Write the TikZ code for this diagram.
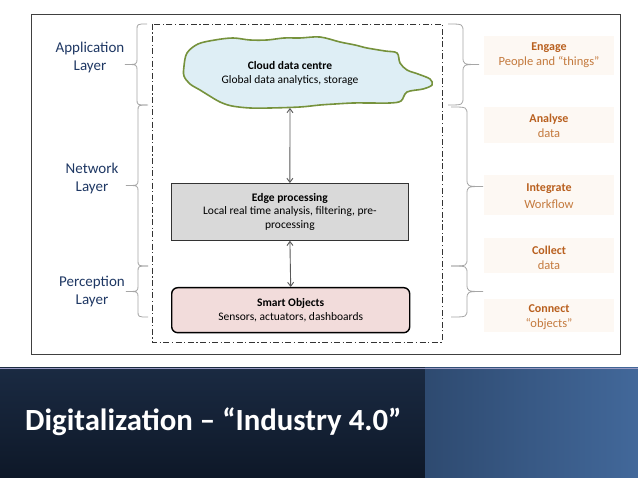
\documentclass[tikz,border=0pt]{standalone}
\usepackage{fontspec}
\setmainfont{Carlito}
\usetikzlibrary{arrows.meta,shapes.misc}
\definecolor{navy}{HTML}{1F3864}
\definecolor{brownA}{HTML}{B9601F}
\definecolor{brownB}{HTML}{C47A3E}
\definecolor{cloudfill}{HTML}{DEEEF5}
\definecolor{cloudline}{HTML}{76923C}
\definecolor{edgefill}{HTML}{D9D9D9}
\definecolor{smartfill}{HTML}{F2DCDB}
\definecolor{boxfill}{HTML}{FDF8F3}
\definecolor{darkband}{HTML}{1A2A42}
\definecolor{darkbandB}{HTML}{0E1828}
\definecolor{lightband}{HTML}{2E4A70}
\definecolor{lightbandB}{HTML}{42689A}
\tikzset{
  layerlabel/.style={text=navy,font=\fontsize{15}{18}\selectfont,align=center},
  stagebox/.style={fill=boxfill,minimum width=130pt,align=center,inner sep=0pt},
  stagetitle/.style={text=brownA,font=\fontsize{12}{14}\selectfont\bfseries},
  stagesub/.style={text=brownB,font=\fontsize{12.5}{14}\selectfont},
  bracepath/.style={draw=gray!70,line width=0.8pt},
  link/.style={draw=black!65,line width=0.9pt,{Straight Barb[length=4pt,width=6pt]}-{Straight Barb[length=4pt,width=6pt]}},
  boxtext/.style={font=\fontsize{11.5}{13.5}\selectfont,align=center}
}
% #1 end x, #2 spine x, #3 tip x, #4 top y, #5 bottom y, #6 curl radius
\newcommand\mybrace[6]{%
 \draw[bracepath] (#1,#4) .. controls (#2,#4) .. (#2,{#4+#6})
   -- (#2,{(#4+#5)/2-#6}) .. controls (#2,{(#4+#5)/2}) .. (#3,{(#4+#5)/2})
   .. controls (#2,{(#4+#5)/2}) .. (#2,{(#4+#5)/2+#6})
   -- (#2,{#5-#6}) .. controls (#2,#5) .. (#1,#5);}
\begin{document}
\begin{tikzpicture}[x=1pt,y=-1pt]
\useasboundingbox (0,0) rectangle (638,478);
\fill[white] (0,0) rectangle (638,478);
% outer frame
\draw[black!75,line width=0.9pt] (31,14) rectangle (620,354);
% dash-dot frame
\draw[black!80,line width=0.8pt,dash pattern=on 6pt off 2.5pt on 1.2pt off 2.5pt] (152,24) rectangle (442,342);
% cloud
\filldraw[fill=cloudfill,draw=cloudline,line width=1.6pt]
 plot[smooth cycle,tension=0.55] coordinates{
 (184,66) (187,53) (198,44) (215,40) (233,38) (250,40) (267,40) (284,38) (300,38)
 (320,37) (340,42) (355,45) (367,48) (385,51) (397,53) (400,63) (407,70) (418,74) (430,79) (432,85)
 (423,89) (407,92) (401,101) (390,103) (370,103) (353,103) (335,104) (320,105) (300,107)
 (270,108) (250,108) (232,106) (220,102) (208,95) (200,90) (190,84) (184,76)};
\node[boxtext] (cloud) at (290,73.5) {\textbf{Cloud data centre}\\Global data analytics, storage};
\coordinate (cloudbot) at (290,108);
% edge box
\node[draw=black!80,fill=edgefill,line width=0.8pt,minimum width=237pt,minimum height=57pt,anchor=north west] (edge) at (171,183) {};
\node[boxtext] at (edge.center) {\textbf{Edge processing}\\Local real time analysis, filtering, pre-\\processing};
% smart objects
\node[draw=black,fill=smartfill,line width=1.4pt,rounded corners=6pt,minimum width=238pt,minimum height=45pt,anchor=north west] (smart) at (171,287) {};
\node[boxtext] at (smart.center) {\textbf{Smart Objects}\\Sensors, actuators, dashboards};
% arrows
\draw[link] (cloudbot) -- (edge.north);
\draw[link] (edge.south) -- (smart.north);
% left labels
\node[layerlabel] (app) at (90,58) {Application\\Layer};
\node[layerlabel] (net) at (92,179) {Network\\Layer};
\node[layerlabel] (per) at (92,292) {Perception\\Layer};
% left braces
\mybrace{147}{137}{125}{24}{105}{6}
\mybrace{148}{138}{126}{105}{266}{6}
\mybrace{148}{138}{126}{266}{317}{6}
% right braces
\mybrace{448}{463}{479}{24}{105}{8}
\mybrace{451}{467}{483}{107}{266}{8}
\mybrace{451}{467}{483}{266}{317}{8}
% right stage boxes
\node[stagebox,minimum height=39pt,anchor=north west] (engage) at (484,36) {};
\node[stagetitle] at (549,48) {Engage};
\node[stagesub] at (549,62) {People and “things”};
\node[stagebox,minimum height=36pt,anchor=north west] (analyse) at (484,107) {};
\node[stagetitle] at (549,119) {Analyse};
\node[stagesub] at (549,133) {data};
\node[stagebox,minimum height=40pt,anchor=north west] (integrate) at (484,175) {};
\node[stagetitle] at (549,189) {Integrate};
\node[stagesub] at (549,204) {Workflow};
\node[stagebox,minimum height=35pt,anchor=north west] (collect) at (484,238) {};
\node[stagetitle] at (549,250) {Collect};
\node[stagesub] at (549,265) {data};
\node[stagebox,minimum height=33pt,anchor=north west] (connect) at (484,299) {};
\node[stagetitle] at (549,309) {Connect};
\node[stagesub] at (549,324) {“objects”};
% bottom band
\shade[top color=darkband,bottom color=darkbandB] (0,368) rectangle (425,478);
\shade[left color=lightband,right color=lightbandB] (425,368) rectangle (638,478);
\draw[black!60!blue!40,line width=0.8pt] (0,368.4) -- (638,368.4);
\node[anchor=base west,text=white,font=\fontsize{30.8}{34}\selectfont\bfseries,inner sep=0pt] (title) at (25,431) {Digitalization – “Industry 4.0”};
\end{tikzpicture}
\end{document}
